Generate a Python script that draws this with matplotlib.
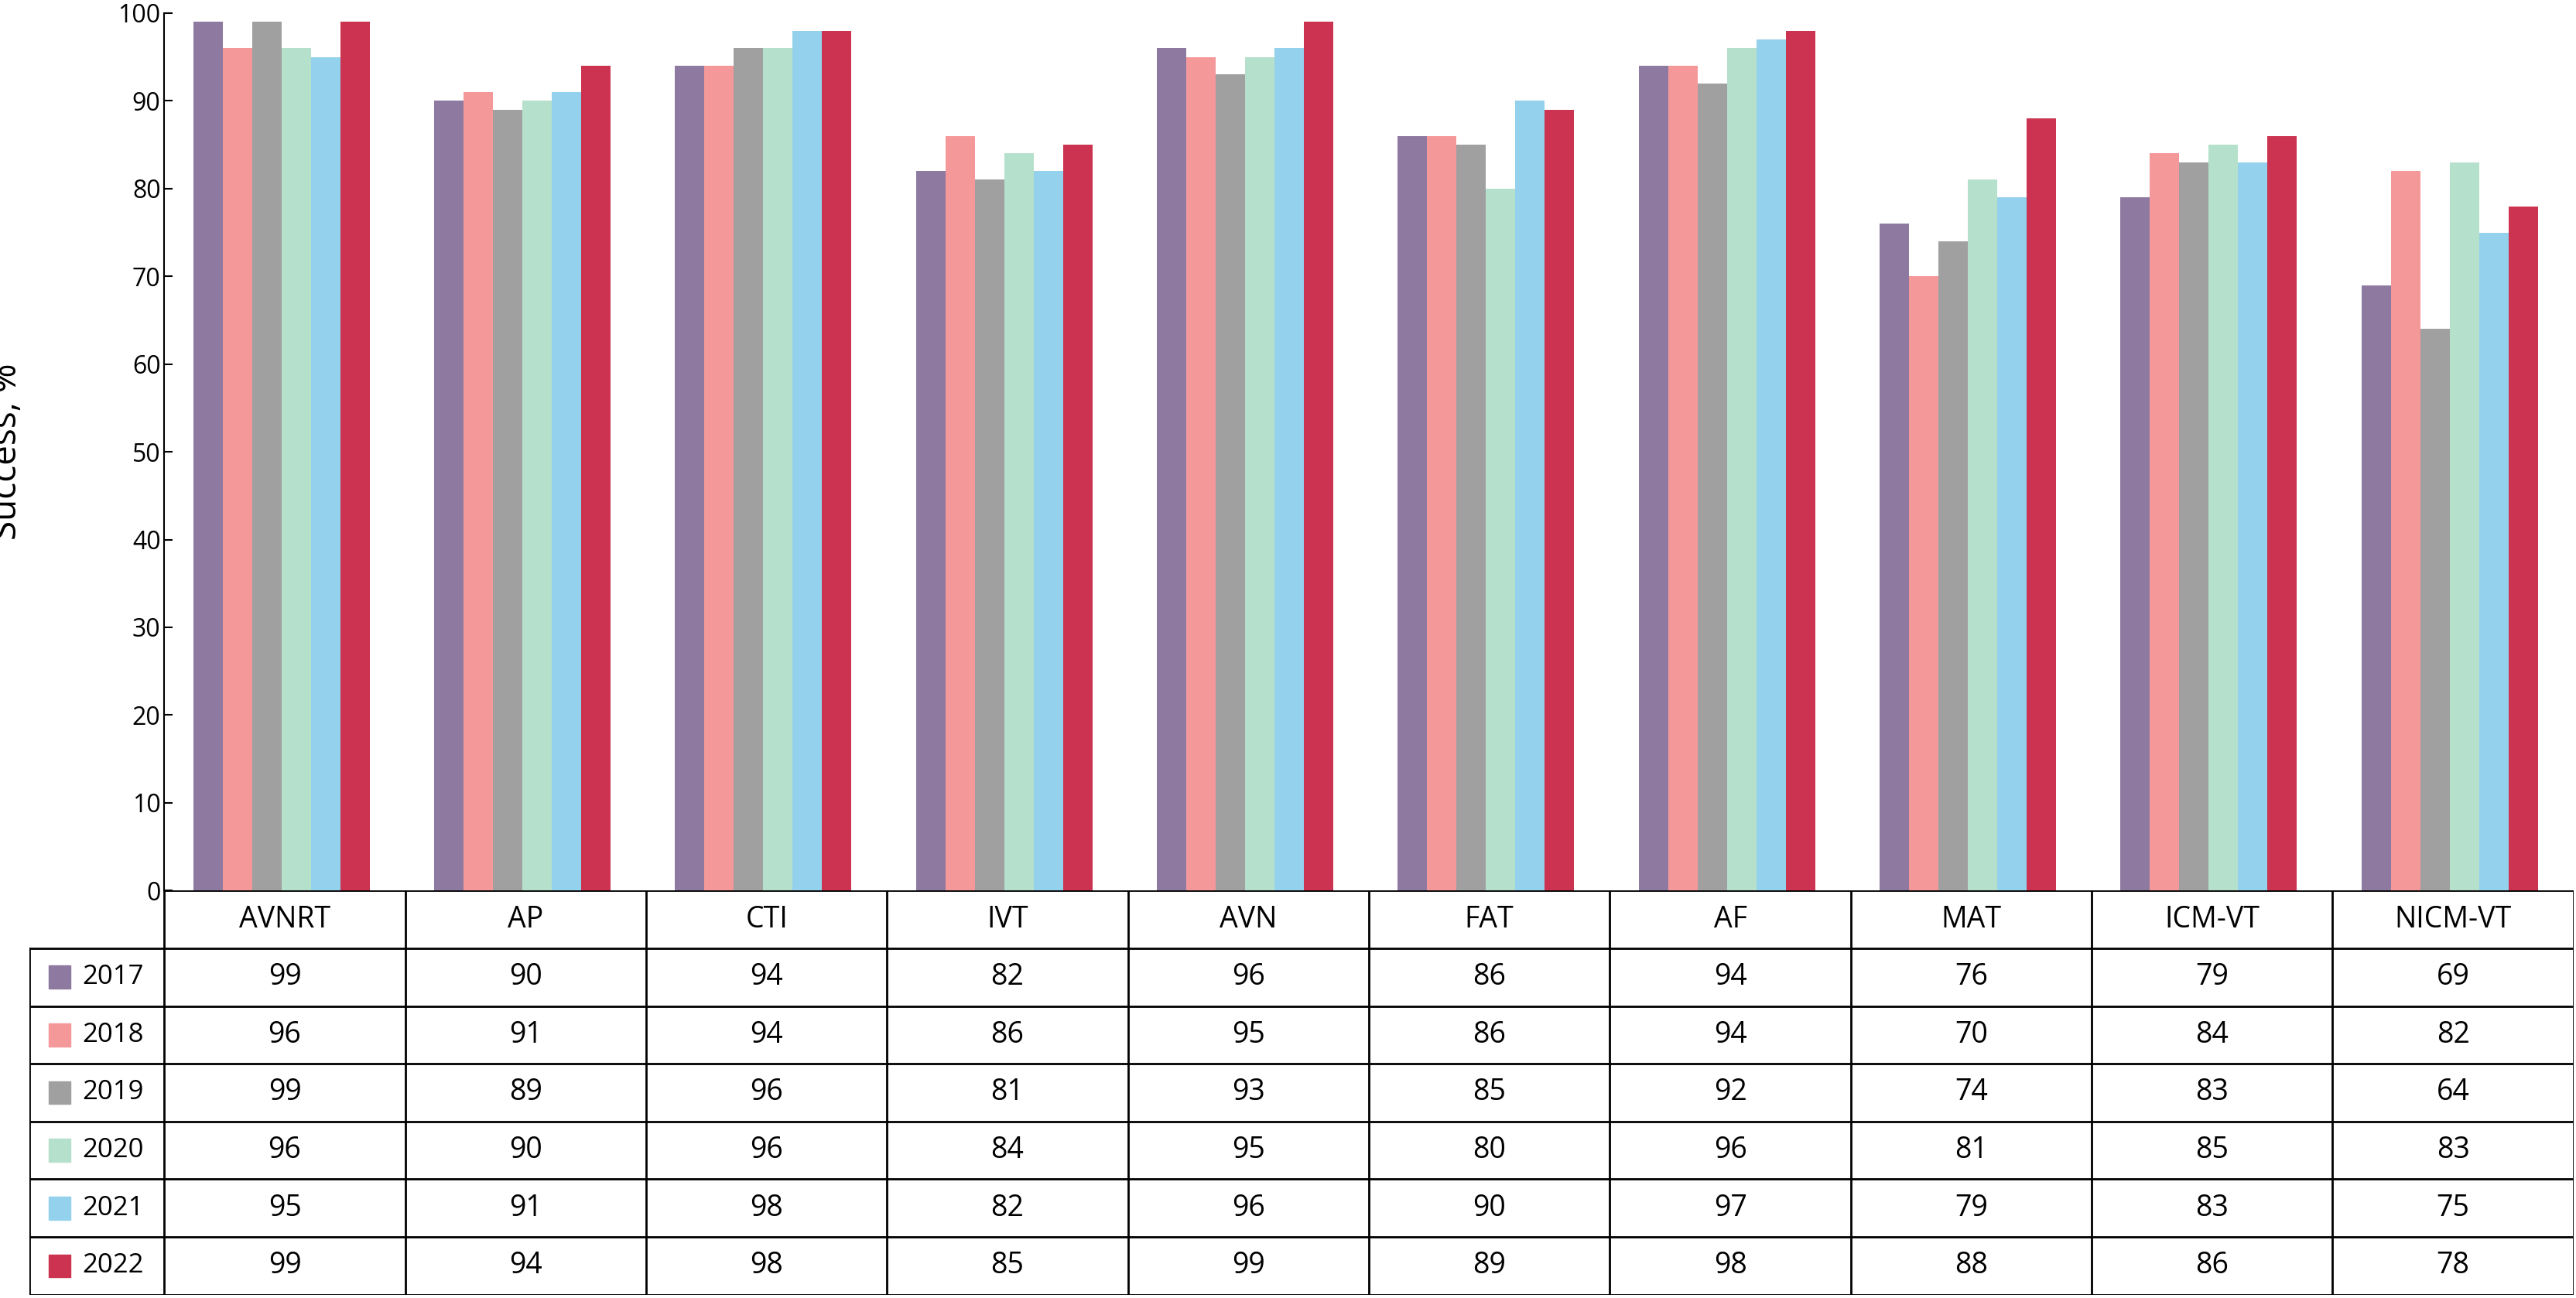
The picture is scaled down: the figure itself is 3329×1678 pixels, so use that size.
import matplotlib
matplotlib.use("Agg")
import matplotlib.pyplot as plt
from matplotlib.patches import Rectangle

categories = ["AVNRT", "AP", "CTI", "IVT", "AVN", "FAT", "AF", "MAT", "ICM-VT", "NICM-VT"]
years = ["2017", "2018", "2019", "2020", "2021", "2022"]
v2017 = [99, 90, 94, 82, 96, 86, 94, 76, 79, 69]
v2018 = [96, 91, 94, 86, 95, 86, 94, 70, 84, 82]
v2019 = [99, 89, 96, 81, 93, 85, 92, 74, 83, 64]
v2020 = [96, 90, 96, 84, 95, 80, 96, 81, 85, 83]
v2021 = [95, 91, 98, 82, 96, 90, 97, 79, 83, 75]
v2022 = [99, 94, 98, 85, 99, 89, 98, 88, 86, 78]
series = [v2017, v2018, v2019, v2020, v2021, v2022]
colors = ["#8e7aa0", "#f4989a", "#a0a0a0", "#b5e0cc", "#93d1ec", "#cc3350"]

plt.rcParams['font.family'] = ['Open Sans', 'DejaVu Sans']
W, H = 3330, 1678
fig = plt.figure(figsize=(W/100, H/100), dpi=100)
sx = 3330/1568; sy = 1678/790
x0 = 100*sx/W; x1 = 1566*sx/W
ytop = 1 - 8*sy/H; ybot = 1 - 542*sy/H
ax = fig.add_axes([x0, ybot, x1-x0, ytop-ybot])
n = len(categories)
bw = 0.122
for i, (vals, c) in enumerate(zip(series, colors)):
    xs = [k + 0.12 + bw*(i+0.5) for k in range(n)]
    ax.bar(xs, vals, width=bw, color=c, edgecolor='none')
ax.set_xlim(0, n)
ax.set_ylim(0, 100)
ax.set_yticks(range(0, 101, 10))
ax.tick_params(axis='y', labelsize=23, length=8, width=1.5, direction='in')
ax.set_xticks([])
ax.set_ylabel("Success, %", fontsize=33)
ax.yaxis.set_label_coords(-0.058, 0.5)
for s in ['top', 'right', 'bottom']:
    ax.spines[s].set_visible(False)
ax.spines['left'].set_linewidth(1.5)

# table
tl = 18*sx/W
tb = 1 - 788*sy/H
tax = fig.add_axes([tl, tb, x1-tl, ybot-tb])
colw = (x1-x0)/n
first = (x0-tl)/colw
tax.set_xlim(-first, n)
tax.set_ylim(7, 0)
tax.axis('off')
lw = 2
kw = dict(color='black', lw=lw, solid_capstyle='projecting')
tax.plot([0, n], [0, 0], **kw)
for r in range(1, 8):
    tax.plot([-first, n], [r, r], **kw)
for k in range(n+1):
    tax.plot([k, k], [0, 7], **kw)
tax.plot([-first, -first], [1, 7], **kw)
for k, cat in enumerate(categories):
    tax.text(k+0.5, 0.5, cat, ha='center', va='center', fontsize=27)
for r, (yr, vals, c) in enumerate(zip(years, series, colors)):
    y = r + 1.5
    tax.add_patch(Rectangle((-first+0.08, y-0.2), 0.09, 0.4, color=c))
    tax.text(-first+0.22, y, yr, ha='left', va='center', fontsize=25)
    for k, v in enumerate(vals):
        tax.text(k+0.5, y, str(v), ha='center', va='center', fontsize=27)

fig.savefig("out.png", dpi=100)
